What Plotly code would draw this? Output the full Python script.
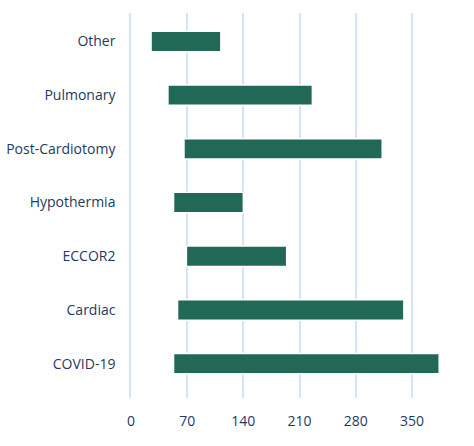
import plotly.graph_objects as go

# categories top to bottom, with start / end of each range bar
categories = ["Other", "Pulmonary", "Post-Cardiotomy", "Hypothermia", "ECCOR2", "Cardiac", "COVID-19"]
range_start = [25, 46, 66, 53, 69, 58, 53]
range_end = [112, 226, 313, 140, 194, 340, 384]
x_ticks = [0, 70, 140, 210, 280, 350]

lengths = [e - s for s, e in zip(range_start, range_end)]

fig = go.Figure(go.Bar(
    y=categories,
    x=lengths,
    base=range_start,
    orientation="h",
    width=0.38,
    marker=dict(color="#216956", line=dict(color="white", width=1.5)),
    hovertemplate="%{y}: %{base} - %{x}<extra></extra>",
))

label_font = dict(family="Open Sans, Liberation Sans, sans-serif", size=14, color="#1f3a5f")
grid_blue = "#d3e4f5"

fig.update_layout(
    width=474, height=446,
    margin=dict(l=131, r=34, t=13, b=48, autoexpand=False),
    plot_bgcolor="white", paper_bgcolor="white",
    showlegend=False,
    xaxis=dict(range=[0, 385], tickvals=x_ticks, showgrid=True, gridcolor=grid_blue,
               gridwidth=1.5, zeroline=False, showline=False, tickfont=label_font,
               ticklabelstandoff=13, automargin=False),
    # y axis line doubles as the gridline at 0
    yaxis=dict(categoryorder="array", categoryarray=categories, range=[6.64, -0.53],
               showgrid=False, zeroline=False, showline=True, linecolor=grid_blue,
               linewidth=1.5, tickfont=label_font, ticklabelstandoff=11, automargin=False),
)

# drop the default body margin so the figure sits at the page corner
fig.write_html("out.html", config={"displayModeBar": False},
               post_script="document.body.style.margin='0';")
